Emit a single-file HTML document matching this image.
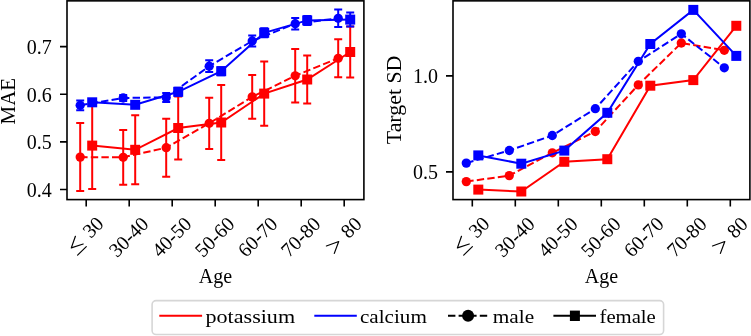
<!DOCTYPE html>
<html><head><meta charset="utf-8"><title>chart</title><style>html,body{margin:0;padding:0;background:#fff;overflow:hidden}svg{display:block;will-change:transform}text{font-family:"Liberation Serif",serif;fill:#000}</style></head><body>
<svg width="751" height="336" viewBox="0 0 751 336">
<rect width="751" height="336" fill="#fff"/>
<defs><clipPath id="c67"><rect x="67" y="0.85" width="296.9" height="198.75"/></clipPath></defs>
<g clip-path="url(#c67)">
<path d="M80.2 123.1V191.1M76.2 123.1H84.2M76.2 191.1H84.2" stroke="#ff0000" stroke-width="2.0" fill="none"/>
<path d="M123.2 129.9V184.7M119.2 129.9H127.2M119.2 184.7H127.2" stroke="#ff0000" stroke-width="2.0" fill="none"/>
<path d="M166.2 118.7V176.7M162.2 118.7H170.2M162.2 176.7H170.2" stroke="#ff0000" stroke-width="2.0" fill="none"/>
<path d="M209.2 97.7V148.9M205.2 97.7H213.2M205.2 148.9H213.2" stroke="#ff0000" stroke-width="2.0" fill="none"/>
<path d="M252.2 75.1V118.7M248.2 75.1H256.2M248.2 118.7H256.2" stroke="#ff0000" stroke-width="2.0" fill="none"/>
<path d="M295.2 49.1V102.5M291.2 49.1H299.2M291.2 102.5H299.2" stroke="#ff0000" stroke-width="2.0" fill="none"/>
<path d="M338.2 39.3V77.3M334.2 39.3H342.2M334.2 77.3H342.2" stroke="#ff0000" stroke-width="2.0" fill="none"/>
<polyline points="80.2,157.1 123.2,157.3 166.2,147.7 209.2,123.3 252.2,96.9 295.2,75.8 338.2,58.3" stroke="#ff0000" stroke-width="2.0" fill="none" stroke-dasharray="7.4 3.2"/>
<circle cx="80.2" cy="157.1" r="4.65" fill="#ff0000"/>
<circle cx="123.2" cy="157.3" r="4.65" fill="#ff0000"/>
<circle cx="166.2" cy="147.7" r="4.65" fill="#ff0000"/>
<circle cx="209.2" cy="123.3" r="4.65" fill="#ff0000"/>
<circle cx="252.2" cy="96.9" r="4.65" fill="#ff0000"/>
<circle cx="295.2" cy="75.8" r="4.65" fill="#ff0000"/>
<circle cx="338.2" cy="58.3" r="4.65" fill="#ff0000"/>
<path d="M92.2 102.2V189M88.2 102.2H96.2M88.2 189H96.2" stroke="#ff0000" stroke-width="2.0" fill="none"/>
<path d="M135.2 115.3V184.3M131.2 115.3H139.2M131.2 184.3H139.2" stroke="#ff0000" stroke-width="2.0" fill="none"/>
<path d="M178.2 96.6V159.4M174.2 96.6H182.2M174.2 159.4H182.2" stroke="#ff0000" stroke-width="2.0" fill="none"/>
<path d="M221.2 85V160M217.2 85H225.2M217.2 160H225.2" stroke="#ff0000" stroke-width="2.0" fill="none"/>
<path d="M264.2 61.4V125.8M260.2 61.4H268.2M260.2 125.8H268.2" stroke="#ff0000" stroke-width="2.0" fill="none"/>
<path d="M307.2 55.5V103.5M303.2 55.5H311.2M303.2 103.5H311.2" stroke="#ff0000" stroke-width="2.0" fill="none"/>
<path d="M350.2 26.4V77.6M346.2 26.4H354.2M346.2 77.6H354.2" stroke="#ff0000" stroke-width="2.0" fill="none"/>
<polyline points="92.2,145.6 135.2,149.8 178.2,128 221.2,122.5 264.2,93.6 307.2,79.5 350.2,52" stroke="#ff0000" stroke-width="2.0" fill="none"/>
<rect x="87.2" y="140.6" width="10" height="10" fill="#ff0000"/>
<rect x="130.2" y="144.8" width="10" height="10" fill="#ff0000"/>
<rect x="173.2" y="123" width="10" height="10" fill="#ff0000"/>
<rect x="216.2" y="117.5" width="10" height="10" fill="#ff0000"/>
<rect x="259.2" y="88.6" width="10" height="10" fill="#ff0000"/>
<rect x="302.2" y="74.5" width="10" height="10" fill="#ff0000"/>
<rect x="345.2" y="47" width="10" height="10" fill="#ff0000"/>
<path d="M80.2 100.4V110.2M76.2 100.4H84.2M76.2 110.2H84.2" stroke="#0000ff" stroke-width="2.0" fill="none"/>
<path d="M123.2 95V101M119.2 95H127.2M119.2 101H127.2" stroke="#0000ff" stroke-width="2.0" fill="none"/>
<path d="M166.2 92.9V101.9M162.2 92.9H170.2M162.2 101.9H170.2" stroke="#0000ff" stroke-width="2.0" fill="none"/>
<path d="M209.2 60.3V72.1M205.2 60.3H213.2M205.2 72.1H213.2" stroke="#0000ff" stroke-width="2.0" fill="none"/>
<path d="M252.2 35.5V46.5M248.2 35.5H256.2M248.2 46.5H256.2" stroke="#0000ff" stroke-width="2.0" fill="none"/>
<path d="M295.2 17.9V29.5M291.2 17.9H299.2M291.2 29.5H299.2" stroke="#0000ff" stroke-width="2.0" fill="none"/>
<path d="M338.2 9.5V27.1M334.2 9.5H342.2M334.2 27.1H342.2" stroke="#0000ff" stroke-width="2.0" fill="none"/>
<polyline points="80.2,105.3 123.2,98 166.2,97.4 209.2,66.2 252.2,41 295.2,23.7 338.2,18.3" stroke="#0000ff" stroke-width="2.0" fill="none" stroke-dasharray="7.4 3.2"/>
<circle cx="80.2" cy="105.3" r="4.65" fill="#0000ff"/>
<circle cx="123.2" cy="98" r="4.65" fill="#0000ff"/>
<circle cx="166.2" cy="97.4" r="4.65" fill="#0000ff"/>
<circle cx="209.2" cy="66.2" r="4.65" fill="#0000ff"/>
<circle cx="252.2" cy="41" r="4.65" fill="#0000ff"/>
<circle cx="295.2" cy="23.7" r="4.65" fill="#0000ff"/>
<circle cx="338.2" cy="18.3" r="4.65" fill="#0000ff"/>
<path d="M92.2 99.3V105.3M88.2 99.3H96.2M88.2 105.3H96.2" stroke="#0000ff" stroke-width="2.0" fill="none"/>
<path d="M135.2 101.8V107.8M131.2 101.8H139.2M131.2 107.8H139.2" stroke="#0000ff" stroke-width="2.0" fill="none"/>
<path d="M178.2 87.8V95.8M174.2 87.8H182.2M174.2 95.8H182.2" stroke="#0000ff" stroke-width="2.0" fill="none"/>
<path d="M221.2 67.2V75.2M217.2 67.2H225.2M217.2 75.2H225.2" stroke="#0000ff" stroke-width="2.0" fill="none"/>
<path d="M264.2 28.3V37.3M260.2 28.3H268.2M260.2 37.3H268.2" stroke="#0000ff" stroke-width="2.0" fill="none"/>
<path d="M307.2 15.9V24.9M303.2 15.9H311.2M303.2 24.9H311.2" stroke="#0000ff" stroke-width="2.0" fill="none"/>
<path d="M350.2 12.6V26.6M346.2 12.6H354.2M346.2 26.6H354.2" stroke="#0000ff" stroke-width="2.0" fill="none"/>
<polyline points="92.2,102.3 135.2,104.8 178.2,91.8 221.2,71.2 264.2,32.8 307.2,20.4 350.2,19.6" stroke="#0000ff" stroke-width="2.0" fill="none"/>
<rect x="87.2" y="97.3" width="10" height="10" fill="#0000ff"/>
<rect x="130.2" y="99.8" width="10" height="10" fill="#0000ff"/>
<rect x="173.2" y="86.8" width="10" height="10" fill="#0000ff"/>
<rect x="216.2" y="66.2" width="10" height="10" fill="#0000ff"/>
<rect x="259.2" y="27.8" width="10" height="10" fill="#0000ff"/>
<rect x="302.2" y="15.4" width="10" height="10" fill="#0000ff"/>
<rect x="345.2" y="14.6" width="10" height="10" fill="#0000ff"/>
</g>
<rect x="67" y="0.85" width="296.9" height="198.75" fill="none" stroke="#000" stroke-width="1.6" stroke-linejoin="miter"/>
<path d="M86.2 199.6v7M129.2 199.6v7M172.2 199.6v7M215.2 199.6v7M258.2 199.6v7M301.2 199.6v7M344.2 199.6v7" stroke="#000" stroke-width="1.6"/>
<defs><clipPath id="c453"><rect x="453" y="0.85" width="296.9" height="198.75"/></clipPath></defs>
<g clip-path="url(#c453)">
<polyline points="466.3,181.6 509.3,175.6 552.3,152.8 595.3,131.5 638.3,84.9 681.3,43 724.3,50.3" stroke="#ff0000" stroke-width="2.0" fill="none" stroke-dasharray="7.4 3.2"/>
<circle cx="466.3" cy="181.6" r="4.65" fill="#ff0000"/>
<circle cx="509.3" cy="175.6" r="4.65" fill="#ff0000"/>
<circle cx="552.3" cy="152.8" r="4.65" fill="#ff0000"/>
<circle cx="595.3" cy="131.5" r="4.65" fill="#ff0000"/>
<circle cx="638.3" cy="84.9" r="4.65" fill="#ff0000"/>
<circle cx="681.3" cy="43" r="4.65" fill="#ff0000"/>
<circle cx="724.3" cy="50.3" r="4.65" fill="#ff0000"/>
<polyline points="478.3,189.6 521.3,191.5 564.3,161.8 607.3,159.2 650.3,85.7 693.3,80.1 736.3,25.8" stroke="#ff0000" stroke-width="2.0" fill="none"/>
<rect x="473.3" y="184.6" width="10" height="10" fill="#ff0000"/>
<rect x="516.3" y="186.5" width="10" height="10" fill="#ff0000"/>
<rect x="559.3" y="156.8" width="10" height="10" fill="#ff0000"/>
<rect x="602.3" y="154.2" width="10" height="10" fill="#ff0000"/>
<rect x="645.3" y="80.7" width="10" height="10" fill="#ff0000"/>
<rect x="688.3" y="75.1" width="10" height="10" fill="#ff0000"/>
<rect x="731.3" y="20.8" width="10" height="10" fill="#ff0000"/>
<polyline points="466.3,163.1 509.3,150.5 552.3,135.5 595.3,108.7 638.3,61.3 681.3,33.8 724.3,67.8" stroke="#0000ff" stroke-width="2.0" fill="none" stroke-dasharray="7.4 3.2"/>
<circle cx="466.3" cy="163.1" r="4.65" fill="#0000ff"/>
<circle cx="509.3" cy="150.5" r="4.65" fill="#0000ff"/>
<circle cx="552.3" cy="135.5" r="4.65" fill="#0000ff"/>
<circle cx="595.3" cy="108.7" r="4.65" fill="#0000ff"/>
<circle cx="638.3" cy="61.3" r="4.65" fill="#0000ff"/>
<circle cx="681.3" cy="33.8" r="4.65" fill="#0000ff"/>
<circle cx="724.3" cy="67.8" r="4.65" fill="#0000ff"/>
<polyline points="478.3,155.4 521.3,163.7 564.3,150.6 607.3,112.8 650.3,44 693.3,9.9 736.3,55.9" stroke="#0000ff" stroke-width="2.0" fill="none"/>
<rect x="473.3" y="150.4" width="10" height="10" fill="#0000ff"/>
<rect x="516.3" y="158.7" width="10" height="10" fill="#0000ff"/>
<rect x="559.3" y="145.6" width="10" height="10" fill="#0000ff"/>
<rect x="602.3" y="107.8" width="10" height="10" fill="#0000ff"/>
<rect x="645.3" y="39" width="10" height="10" fill="#0000ff"/>
<rect x="688.3" y="4.9" width="10" height="10" fill="#0000ff"/>
<rect x="731.3" y="50.9" width="10" height="10" fill="#0000ff"/>
</g>
<rect x="453" y="0.85" width="296.9" height="198.75" fill="none" stroke="#000" stroke-width="1.6" stroke-linejoin="miter"/>
<path d="M472.3 199.6v7M515.3 199.6v7M558.3 199.6v7M601.3 199.6v7M644.3 199.6v7M687.3 199.6v7M730.3 199.6v7" stroke="#000" stroke-width="1.6"/>
<path d="M60 189.45H67M60 141.83H67M60 94.2H67M60 46.6H67" stroke="#000" stroke-width="1.6"/>
<text x="51.7" y="196.85" font-size="20" text-anchor="end">0.4</text>
<text x="51.7" y="149.23" font-size="20" text-anchor="end">0.5</text>
<text x="51.7" y="102.2" font-size="20" text-anchor="end">0.6</text>
<text x="51.7" y="53.8" font-size="20" text-anchor="end">0.7</text>
<path d="M446 171.9H453M446 75.9H453" stroke="#000" stroke-width="1.6"/>
<text x="438" y="179.3" font-size="20" text-anchor="end">0.5</text>
<text x="438" y="83.3" font-size="20" text-anchor="end">1.0</text>
<text transform="translate(14.8,101.2) rotate(-90)" font-size="20" text-anchor="middle" textLength="46.7" lengthAdjust="spacingAndGlyphs">MAE</text>
<text transform="translate(400.9,99.9) rotate(-90)" font-size="20" text-anchor="middle" textLength="88.5" lengthAdjust="spacingAndGlyphs">Target SD</text>
<text x="215.45" y="283" font-size="20" text-anchor="middle">Age</text>
<text x="601.45" y="283" font-size="20" text-anchor="middle">Age</text>
<text transform="translate(128.6,236.9) rotate(-45)" font-size="20" text-anchor="middle" y="6.8">30-40</text>
<text transform="translate(171.6,236.9) rotate(-45)" font-size="20" text-anchor="middle" y="6.8">40-50</text>
<text transform="translate(214.6,236.9) rotate(-45)" font-size="20" text-anchor="middle" y="6.8">50-60</text>
<text transform="translate(257.6,236.9) rotate(-45)" font-size="20" text-anchor="middle" y="6.8">60-70</text>
<text transform="translate(300.6,236.9) rotate(-45)" font-size="20" text-anchor="middle" y="6.8">70-80</text>
<text transform="translate(92.95,227.1) rotate(-45)" font-size="20" text-anchor="middle" y="6.8">30</text>
<path d="M75.4 236.3L71.3 247.9L83.2 244.0M77.6 255.1L86.3 246.6" stroke="#000" stroke-width="1.2" fill="none" stroke-linecap="round" stroke-linejoin="round"/>
<text transform="translate(351.1,227.4) rotate(-45)" font-size="20" text-anchor="middle" y="6.8">80</text>
<path d="M326.4 246L338.7 241.5L334.3 253.4" stroke="#000" stroke-width="1.2" fill="none" stroke-linecap="round" stroke-linejoin="round"/>
<text transform="translate(514.7,236.9) rotate(-45)" font-size="20" text-anchor="middle" y="6.8">30-40</text>
<text transform="translate(557.7,236.9) rotate(-45)" font-size="20" text-anchor="middle" y="6.8">40-50</text>
<text transform="translate(600.7,236.9) rotate(-45)" font-size="20" text-anchor="middle" y="6.8">50-60</text>
<text transform="translate(643.7,236.9) rotate(-45)" font-size="20" text-anchor="middle" y="6.8">60-70</text>
<text transform="translate(686.7,236.9) rotate(-45)" font-size="20" text-anchor="middle" y="6.8">70-80</text>
<text transform="translate(479.05,227.1) rotate(-45)" font-size="20" text-anchor="middle" y="6.8">30</text>
<path d="M461.5 236.3L457.4 247.9L469.3 244.0M463.7 255.1L472.4 246.6" stroke="#000" stroke-width="1.2" fill="none" stroke-linecap="round" stroke-linejoin="round"/>
<text transform="translate(737.2,227.4) rotate(-45)" font-size="20" text-anchor="middle" y="6.8">80</text>
<path d="M712.5 246L724.8 241.5L720.4 253.4" stroke="#000" stroke-width="1.2" fill="none" stroke-linecap="round" stroke-linejoin="round"/>
<rect x="152.1" y="300.6" width="511.5" height="33.9" rx="4" ry="4" fill="#fff" stroke="#d6d6d6" stroke-width="1.6"/>
<path d="M159.3 315.8H202.1" stroke="#ff0000" stroke-width="2"/>
<text transform="translate(205.5,323) scale(1,0.93)" font-size="20" textLength="89.6" lengthAdjust="spacingAndGlyphs">potassium</text>
<path d="M314.3 315.8H356.8" stroke="#0000ff" stroke-width="2"/>
<text transform="translate(360,323) scale(1,0.93)" font-size="20" textLength="66.8" lengthAdjust="spacingAndGlyphs">calcium</text>
<path d="M448 315.8H488" stroke="#000" stroke-width="2" stroke-dasharray="7.4 3.2"/>
<circle cx="468.1" cy="315.8" r="6" fill="#000"/>
<text transform="translate(492.8,323) scale(1,0.93)" font-size="20" textLength="41.4" lengthAdjust="spacingAndGlyphs">male</text>
<path d="M553.4 315.8H596" stroke="#000" stroke-width="2"/>
<rect x="569.9" y="310.6" width="10" height="10.4" fill="#000"/>
<text transform="translate(599.5,323) scale(1,0.93)" font-size="20" textLength="56.3" lengthAdjust="spacingAndGlyphs">female</text>
</svg></body></html>
